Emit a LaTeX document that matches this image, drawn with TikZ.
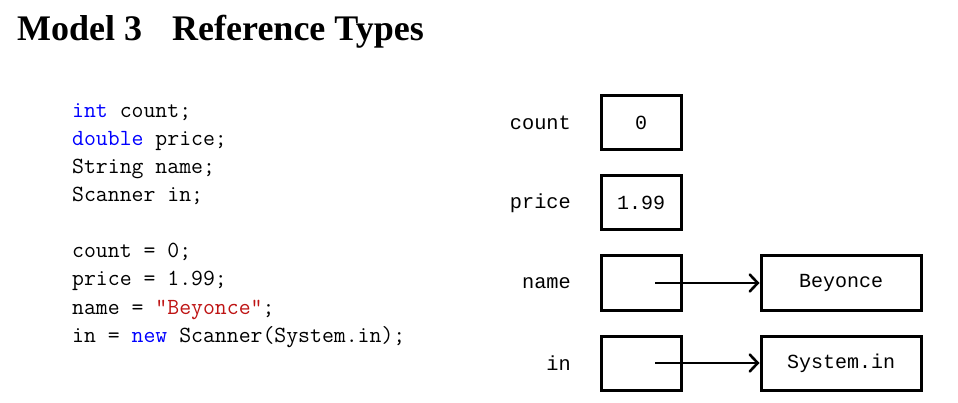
\documentclass[tikz,border=0pt]{standalone}
\usepackage{fontspec}
\setmainfont{Liberation Serif}
\newfontfamily\diagfont{Liberation Mono}
\setmonofont{Latin Modern Mono}
\usetikzlibrary{arrows.meta}
\definecolor{kwblue}{RGB}{0,0,255}
\definecolor{strred}{RGB}{190,20,20}
\begin{document}
\begin{tikzpicture}[x=1pt,y=-1pt,
  codeline/.style={anchor=base west,inner sep=0pt,font=\fontsize{23.1}{26}\ttfamily},
  varlabel/.style={anchor=east,inner sep=0pt,font=\fontsize{20.3}{24}\diagfont},
  cell/.style={draw,line width=3pt,minimum width=80pt,minimum height=54pt,inner sep=0pt,font=\fontsize{20}{24}\diagfont},
  obj/.style={draw,line width=3pt,minimum width=160pt,minimum height=54pt,inner sep=0pt,font=\fontsize{20}{24}\diagfont},
  ptrarrow/.style={line width=2.6pt,-{Straight Barb[length=8pt,width=17pt,line cap=round]}}]
\useasboundingbox (0,0) rectangle (958,403);
\node[anchor=base west,inner sep=0pt,font=\fontsize{36}{40}\bfseries] (title) at (17,41) {Model 3\hspace{30pt}Reference Types};
% code
\node[codeline] (c1) at (72,118) {\textcolor{kwblue}{int} count;};
\node[codeline] (c2) at (72,146) {\textcolor{kwblue}{double} price;};
\node[codeline] (c3) at (72,174) {String name;};
\node[codeline] (c4) at (72,202) {Scanner in;};
\node[codeline] (c5) at (72,258) {count = 0;};
\node[codeline] (c6) at (72,286) {price = 1.99;};
\node[codeline] (c7) at (72,314) {name = \textcolor{strred}{"Beyonce"};};
\node[codeline] (c8) at (72,342) {in = \textcolor{kwblue}{new} Scanner(System.in);};
% diagram
\node[cell] (bcount) at (641,123) {0};
\node[cell] (bprice) at (641,203) {1.99};
\node[cell] (bname) at (641,283) {};
\node[cell] (bin) at (641,363) {};
\node[obj] (beyonce) at (841,283) {Beyonce};
\node[obj] (sysin) at (841,363) {System.in};
\node[varlabel] (lcount) at (571,123) {count};
\node[varlabel] (lprice) at (571,203) {price};
\node[varlabel] (lname) at (571,283) {name};
\node[varlabel] (lin) at (571,363) {in};
\coordinate (sname) at (655,283);
\coordinate (sin) at (655,363);
\draw[ptrarrow] (sname) -- (beyonce.west);
\draw[ptrarrow] (sin) -- (sysin.west);
\end{tikzpicture}
\end{document}
